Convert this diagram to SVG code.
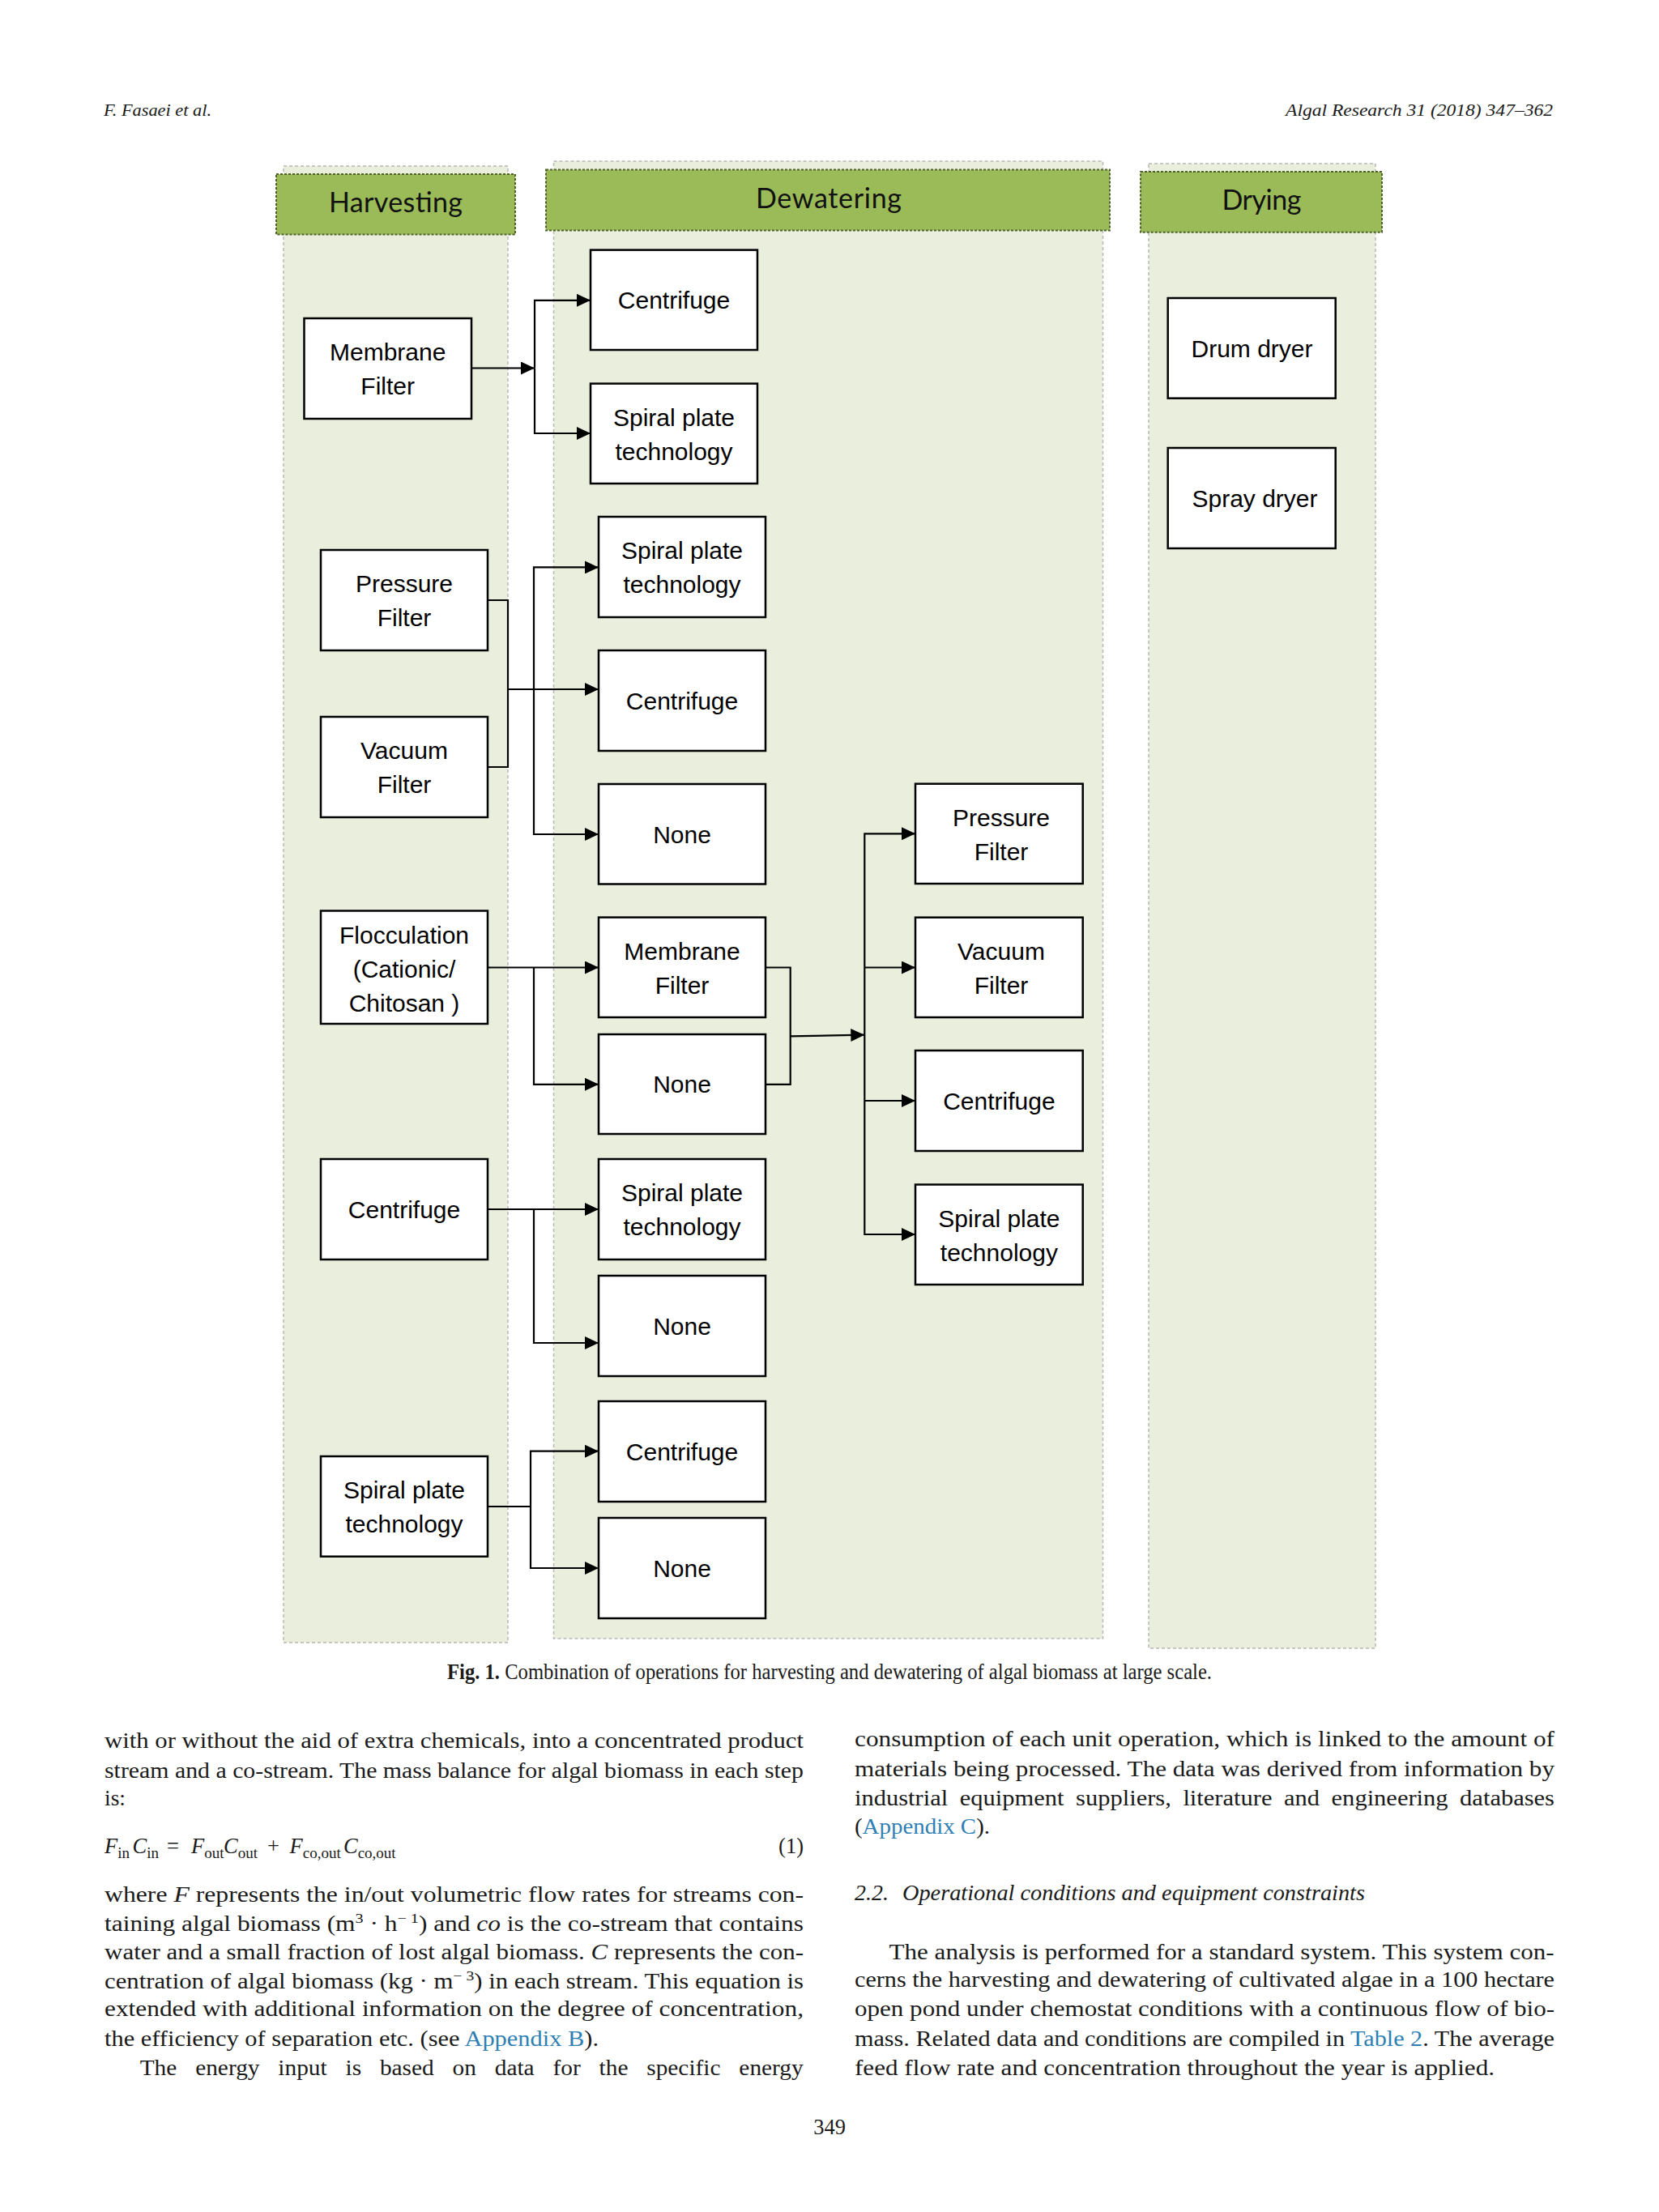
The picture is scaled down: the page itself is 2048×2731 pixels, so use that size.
<svg xmlns="http://www.w3.org/2000/svg" width="2048" height="2731" viewBox="0 0 2048 2731">
<defs>
<marker id="arr" markerUnits="userSpaceOnUse" markerWidth="18" markerHeight="16" refX="17" refY="8" orient="auto"><path d="M0,0 L17,8 L0,16 Z" fill="#000"/></marker>
<style>
.col{fill:#E9EFDC;stroke:#B8B8B8;stroke-width:1.5;stroke-dasharray:4 3}
.hdr{fill:#9BBB59;stroke:#4F6228;stroke-width:2;stroke-dasharray:3 2}
.hdrt{font-family:Lato,"Open Sans",sans-serif;font-size:34px;fill:#111;text-anchor:middle}
.box{fill:#fff;stroke:#000;stroke-width:2.5}
.bt{font-family:"Liberation Sans",Arial,sans-serif;font-size:30px;fill:#000;text-anchor:middle}
.cn{fill:none;stroke:#000;stroke-width:2.2}
.ar{marker-end:url(#arr)}
.body{font-family:"Liberation Serif","Times New Roman",serif;font-size:26.5px;fill:#1a1a1a}
.hd{font-family:"Liberation Serif","Times New Roman",serif;font-size:21px;font-style:italic;fill:#1a1a1a}
.lnk{fill:#2F7FB5}
.it{font-style:italic}
</style>
</defs>
<rect width="2048" height="2731" fill="#fff"/>

<text class="hd" x="128" y="143" textLength="133" lengthAdjust="spacingAndGlyphs">F. Fasaei et al.</text>
<text class="hd" x="1587" y="143" textLength="330" lengthAdjust="spacingAndGlyphs">Algal Research 31 (2018) 347–362</text>

<g id="lanes">
<rect class="col" x="350" y="205" width="277" height="1823"/>
<rect class="col" x="683.5" y="199" width="678" height="1824"/>
<rect class="col" x="1418" y="202" width="280" height="1833"/>
<g id="hdr-harvesting"><rect class="hdr" x="341" y="215" width="295" height="74.5"/><text class="hdrt" x="488.5" y="261.7" textLength="165" lengthAdjust="spacing">Harvesting</text></g>
<g id="hdr-dewatering"><rect class="hdr" x="674" y="209.5" width="696" height="75"/><text class="hdrt" x="1023" y="256.7" textLength="180" lengthAdjust="spacing">Dewatering</text></g>
<g id="hdr-drying"><rect class="hdr" x="1408" y="212" width="298" height="74.7"/><text class="hdrt" x="1557.5" y="259" textLength="98" lengthAdjust="spacing">Drying</text></g>
</g>

<g id="connectors">
<path class="cn ar" d="M582,454.5 H660"/>
<path class="cn ar" d="M660,454.5 V370.8 H729"/>
<path class="cn ar" d="M660,454.5 V535 H729"/>
<path class="cn" d="M602,741 H627 V947 H602"/>
<path class="cn ar" d="M627,851 H739"/>
<path class="cn ar" d="M659,851 V700.4 H739"/>
<path class="cn ar" d="M659,851 V1030 H739"/>
<path class="cn ar" d="M602,1194.5 H739"/>
<path class="cn ar" d="M659,1194.5 V1338.8 H739"/>
<path class="cn" d="M945,1194.5 H975.7 V1338.8 H945"/>
<path class="cn ar" d="M975.7,1279.3 L1067.3,1277.7"/>
<path class="cn ar" d="M1067.3,1277.7 V1029.3 H1130"/>
<path class="cn ar" d="M1067.3,1194.5 H1130"/>
<path class="cn ar" d="M1067.3,1359 H1130"/>
<path class="cn ar" d="M1067.3,1277.7 V1524 H1130"/>
<path class="cn ar" d="M602,1493 H739"/>
<path class="cn ar" d="M659,1493 V1658 H739"/>
<path class="cn" d="M602,1860 H655"/>
<path class="cn ar" d="M655,1860 V1791.7 H739"/>
<path class="cn ar" d="M655,1860 V1936 H739"/>
</g>

<g id="h-membrane"><rect class="box" x="375.5" y="393" width="206.5" height="124"/><text class="bt" x="478.7" y="445">Membrane</text><text class="bt" x="478.7" y="487">Filter</text></g>
<g id="h-pressure"><rect class="box" x="396" y="679" width="206" height="124"/><text class="bt" x="499" y="731">Pressure</text><text class="bt" x="499" y="773">Filter</text></g>
<g id="h-vacuum"><rect class="box" x="396" y="885" width="206" height="124"/><text class="bt" x="499" y="937">Vacuum</text><text class="bt" x="499" y="979">Filter</text></g>
<g id="h-flocculation"><rect class="box" x="396" y="1124.5" width="206" height="139.5"/><text class="bt" x="499" y="1164.7">Flocculation</text><text class="bt" x="499" y="1207">(Cationic/</text><text class="bt" x="499" y="1248.5">Chitosan )</text></g>
<g id="h-centrifuge"><rect class="box" x="396" y="1431" width="206" height="124"/><text class="bt" x="499" y="1503.5">Centrifuge</text></g>
<g id="h-spiral"><rect class="box" x="396" y="1798" width="206" height="123.7"/><text class="bt" x="499" y="1850">Spiral plate</text><text class="bt" x="499" y="1892">technology</text></g>

<g id="d-centrifuge-1"><rect class="box" x="729" y="308.6" width="206" height="123.4"/><text class="bt" x="832" y="381">Centrifuge</text></g>
<g id="d-spiral-1"><rect class="box" x="729" y="473.6" width="206" height="123.4"/><text class="bt" x="832" y="525.5">Spiral plate</text><text class="bt" x="832" y="567.5">technology</text></g>
<g id="d-spiral-2"><rect class="box" x="739" y="638" width="206" height="124"/><text class="bt" x="842" y="690">Spiral plate</text><text class="bt" x="842" y="732">technology</text></g>
<g id="d-centrifuge-2"><rect class="box" x="739" y="803" width="206" height="124"/><text class="bt" x="842" y="875.5">Centrifuge</text></g>
<g id="d-none-1"><rect class="box" x="739" y="968" width="206" height="123.5"/><text class="bt" x="842" y="1040.5">None</text></g>
<g id="d-membrane"><rect class="box" x="739" y="1132.6" width="206" height="123.4"/><text class="bt" x="842" y="1184.5">Membrane</text><text class="bt" x="842" y="1226.5">Filter</text></g>
<g id="d-none-2"><rect class="box" x="739" y="1277" width="206" height="123"/><text class="bt" x="842" y="1349">None</text></g>
<g id="d-spiral-3"><rect class="box" x="739" y="1431" width="206" height="124"/><text class="bt" x="842" y="1483">Spiral plate</text><text class="bt" x="842" y="1525">technology</text></g>
<g id="d-none-3"><rect class="box" x="739" y="1575" width="206" height="124"/><text class="bt" x="842" y="1647.5">None</text></g>
<g id="d-centrifuge-3"><rect class="box" x="739" y="1730" width="206" height="124"/><text class="bt" x="842" y="1802.5">Centrifuge</text></g>
<g id="d-none-4"><rect class="box" x="739" y="1874" width="206" height="124"/><text class="bt" x="842" y="1946.5">None</text></g>

<g id="r-pressure"><rect class="box" x="1130" y="967.7" width="206.7" height="123.3"/><text class="bt" x="1236" y="1020">Pressure</text><text class="bt" x="1236" y="1061.7">Filter</text></g>
<g id="r-vacuum"><rect class="box" x="1130" y="1132.7" width="206.7" height="123.3"/><text class="bt" x="1236" y="1185">Vacuum</text><text class="bt" x="1236" y="1227">Filter</text></g>
<g id="r-centrifuge"><rect class="box" x="1130" y="1297" width="206.7" height="124"/><text class="bt" x="1233.4" y="1369.5">Centrifuge</text></g>
<g id="r-spiral"><rect class="box" x="1130" y="1462.5" width="206.7" height="123.5"/><text class="bt" x="1233.4" y="1514.5">Spiral plate</text><text class="bt" x="1233.4" y="1556.5">technology</text></g>

<g id="drum-dryer"><rect class="box" x="1441.7" y="368" width="207" height="123.7"/><text class="bt" x="1545.5" y="440.5">Drum dryer</text></g>
<g id="spray-dryer"><rect class="box" x="1441.7" y="553" width="207" height="124"/><text class="bt" x="1549" y="626">Spray dryer</text></g>

<text class="body" x="552" y="2073" font-size="21" textLength="944" lengthAdjust="spacingAndGlyphs"><tspan font-weight="bold">Fig. 1.</tspan> Combination of operations for harvesting and dewatering of algal biomass at large scale.</text>

<g id="body-left">
<text class="body" x="129" y="2158" textLength="863" lengthAdjust="spacingAndGlyphs">with or without the aid of extra chemicals, into a concentrated product</text>
<text class="body" x="129" y="2194.6" textLength="863" lengthAdjust="spacingAndGlyphs">stream and a co-stream. The mass balance for algal biomass in each step</text>
<text class="body" x="129" y="2229" textLength="26" lengthAdjust="spacingAndGlyphs">is:</text>
<text class="body" y="2288.4"><tspan x="129" class="it">F</tspan><tspan font-size="19" dy="6">in</tspan><tspan x="163.6" dy="-6" class="it">C</tspan><tspan font-size="19" dy="6">in</tspan><tspan x="206" dy="-6">=</tspan><tspan x="236" class="it">F</tspan><tspan font-size="19" dy="6">out</tspan><tspan x="276" dy="-6" class="it">C</tspan><tspan font-size="19" dy="6">out</tspan><tspan x="330" dy="-6">+</tspan><tspan x="357.6" class="it">F</tspan><tspan font-size="19" dy="6">co,out</tspan><tspan x="424" dy="-6" class="it">C</tspan><tspan font-size="19" dy="6">co,out</tspan></text>
<text class="body" x="992" y="2288.4" text-anchor="end">(1)</text>
<text class="body" x="129" y="2347.7" textLength="863" lengthAdjust="spacingAndGlyphs">where <tspan class="it">F</tspan> represents the in/out volumetric flow rates for streams con-</text>
<text class="body" x="129" y="2384" textLength="863" lengthAdjust="spacingAndGlyphs">taining algal biomass (m<tspan font-size="17" dy="-10">3</tspan><tspan dy="10"> · h</tspan><tspan font-size="17" dy="-10">− 1</tspan><tspan dy="10">) and </tspan><tspan class="it">co</tspan> is the co-stream that contains</text>
<text class="body" x="129" y="2418.5" textLength="863" lengthAdjust="spacingAndGlyphs">water and a small fraction of lost algal biomass. <tspan class="it">C</tspan> represents the con-</text>
<text class="body" x="129" y="2455" textLength="863" lengthAdjust="spacingAndGlyphs">centration of algal biomass (kg · m<tspan font-size="17" dy="-10">− 3</tspan><tspan dy="10">) in each stream. This equation is</tspan></text>
<text class="body" x="129" y="2489" textLength="863" lengthAdjust="spacingAndGlyphs">extended with additional information on the degree of concentration,</text>
<text class="body" x="129" y="2525.7" textLength="610" lengthAdjust="spacingAndGlyphs">the efficiency of separation etc. (see <tspan class="lnk">Appendix B</tspan>).</text>
<text class="body" x="172.7" y="2562" textLength="819" lengthAdjust="spacingAndGlyphs" word-spacing="14">The energy input is based on data for the specific energy</text>
</g>

<g id="body-right">
<text class="body" x="1055" y="2156" textLength="864" lengthAdjust="spacingAndGlyphs">consumption of each unit operation, which is linked to the amount of</text>
<text class="body" x="1055" y="2192.7" textLength="864" lengthAdjust="spacingAndGlyphs">materials being processed. The data was derived from information by</text>
<text class="body" x="1055" y="2229" textLength="864" lengthAdjust="spacingAndGlyphs" word-spacing="6">industrial equipment suppliers, literature and engineering databases</text>
<text class="body" x="1055" y="2263.5" textLength="167" lengthAdjust="spacingAndGlyphs">(<tspan class="lnk">Appendix C</tspan>).</text>
<text class="body it" x="1055" y="2345.8" textLength="42" lengthAdjust="spacingAndGlyphs">2.2.</text>
<text class="body it" x="1114" y="2345.8" textLength="571" lengthAdjust="spacingAndGlyphs">Operational conditions and equipment constraints</text>
<text class="body" x="1097.6" y="2418.5" textLength="821" lengthAdjust="spacingAndGlyphs">The analysis is performed for a standard system. This system con-</text>
<text class="body" x="1055" y="2453" textLength="864" lengthAdjust="spacingAndGlyphs">cerns the harvesting and dewatering of cultivated algae in a 100 hectare</text>
<text class="body" x="1055" y="2489" textLength="864" lengthAdjust="spacingAndGlyphs">open pond under chemostat conditions with a continuous flow of bio-</text>
<text class="body" x="1055" y="2525.7" textLength="864" lengthAdjust="spacingAndGlyphs">mass. Related data and conditions are compiled in <tspan class="lnk">Table 2</tspan>. The average</text>
<text class="body" x="1055" y="2562" textLength="790" lengthAdjust="spacingAndGlyphs">feed flow rate and concentration throughout the year is applied.</text>
</g>

<text class="body" x="1024" y="2635" font-size="21" text-anchor="middle">349</text>
</svg>
